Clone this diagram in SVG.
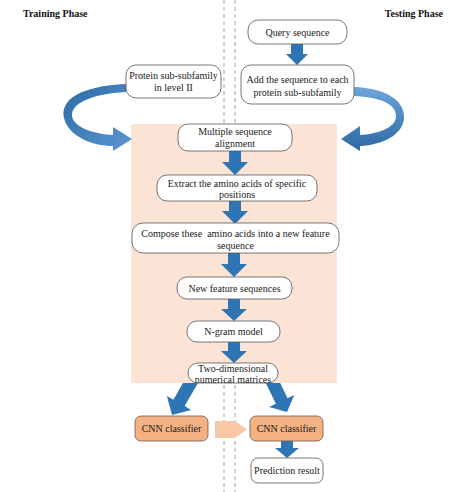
<svg xmlns="http://www.w3.org/2000/svg" width="474" height="492" viewBox="0 0 474 492">
<defs>
<style>
.t{font-family:"Liberation Serif","Times New Roman",serif;font-size:10px;fill:#1a1a1a;text-anchor:middle}
.h{font-family:"Liberation Serif","Times New Roman",serif;font-size:10px;font-weight:bold;fill:#111}
.b{fill:#fff;stroke:#555;stroke-width:0.8}
.o{fill:#f4b183;stroke:#6f5444;stroke-width:0.8}
.a{fill:#2e75b6}
.d{stroke:#8a8a8a;stroke-width:0.8;stroke-dasharray:4 3;fill:none}
</style>
<linearGradient id="gl" x1="0" y1="0" x2="1" y2="1">
<stop offset="0" stop-color="#2b6aa6"/>
<stop offset="1" stop-color="#5b97d0"/>
</linearGradient>
<linearGradient id="gr" x1="0" y1="0" x2="0" y2="1">
<stop offset="0" stop-color="#6ea6dc"/>
<stop offset="1" stop-color="#2b68a3"/>
</linearGradient>
</defs>
<rect width="474" height="492" fill="#fff"/>
<g id="dividers">
<line class="d" x1="224" y1="0" x2="224" y2="492"/>
<line class="d" x1="235" y1="0" x2="235" y2="492"/>
</g>
<text class="h" x="23" y="17">Training Phase</text>
<text class="h" x="443" y="17" text-anchor="end">Testing Phase</text>
<rect id="stage" x="131" y="124" width="206" height="259" fill="#fbe4d5"/>
<g id="connectors">
<path fill="url(#gl)" d="M126,84 C80,86 60,100 64,118 C68,136 92,146 113,146 L113,151 L132,139 L113,127 L113,135 C95,134 74,128 72,116 C71,103 92,94 126,92 Z"/>
<path fill="url(#gr)" d="M354,87 C385,88 405,100 404,118 C403,135 382,145 360,146 L360,151 L341,139 L360,126 L360,135 C378,134 395,128 396,117 C397,104 380,97 354,96 Z"/>
<polygon class="a" points="291,44 303,44 303,54 308,54 297,65 286,54 291,54"/>
<polygon class="a" points="229,151 241,151 241,162 248,162 235,175 222,162 229,162"/>
<polygon class="a" points="229,201 241,201 241,211 248,211 235,224 222,211 229,211"/>
<polygon class="a" points="228,253 240,253 240,264 247,264 234,277 221,264 228,264"/>
<polygon class="a" points="228,299 240,299 240,309 247,309 234,321 221,309 228,309"/>
<polygon class="a" points="228,342 240,342 240,351 247,351 234,363 221,351 228,351"/>
<polygon class="a" points="183,383 198,383 184.6,406.1 191.1,409.9 172,415 166.9,395.9 173.4,399.7"/>
<polygon class="a" points="265.8,383 280.2,383 287.55,398.2 294.3,394.9 287,412 269.1,407.1 275.85,403.8"/>
<polygon fill="#f8c8a4" points="215,421 235,421 247,429.5 235,438 215,438"/>
<polygon class="a" points="281,441 293,441 293,448 299,448 287,458 275,448 281,448"/>
</g>
<g id="query">
<rect class="b" x="248" y="20" width="99" height="24" rx="10"/>
<text class="t" x="297.5" y="35.5">Query sequence</text>
</g>
<g id="subfamily">
<rect class="b" x="126" y="65" width="95" height="33" rx="10"/>
<text class="t" x="173.5" y="78.5">Protein sub-subfamily</text>
<text class="t" x="173.5" y="91">in level II</text>
</g>
<g id="add">
<rect class="b" x="241" y="65" width="113" height="39" rx="10"/>
<text class="t" x="297.5" y="83">Add the sequence to each</text>
<text class="t" x="297.5" y="96">protein sub-subfamily</text>
</g>
<g id="msa">
<rect class="b" x="178" y="124" width="114" height="27" rx="10"/>
<text class="t" x="235" y="135">Multiple sequence</text>
<text class="t" x="235" y="147">alignment</text>
</g>
<g id="extract">
<rect class="b" x="157" y="175" width="160" height="26" rx="10"/>
<text class="t" x="237" y="186.5">Extract the amino acids of specific</text>
<text class="t" x="237" y="198">positions</text>
</g>
<g id="compose">
<rect class="b" x="132" y="223" width="207" height="30" rx="11"/>
<text class="t" x="235.5" y="237" xml:space="preserve">Compose these  amino acids into a new feature</text>
<text class="t" x="235.5" y="249">sequence</text>
</g>
<g id="newfeat">
<rect class="b" x="177" y="277" width="115" height="22" rx="10"/>
<text class="t" x="234.5" y="292">New feature sequences</text>
</g>
<g id="ngram">
<rect class="b" x="187" y="321" width="93" height="21" rx="10"/>
<text class="t" x="233.5" y="335">N-gram model</text>
</g>
<g id="matrices">
<rect class="b" x="188" y="363" width="90" height="20" rx="10"/>
<text class="t" x="233" y="371.5">Two-dimensional</text>
<text class="t" x="233" y="382.5">numerical matrices</text>
</g>
<g id="cnn-train">
<rect class="o" x="135" y="416" width="73" height="25" rx="6"/>
<text class="t" x="171.5" y="432">CNN classifier</text>
</g>
<g id="cnn-test">
<rect class="o" x="250" y="416" width="73" height="25" rx="6"/>
<text class="t" x="286.5" y="432">CNN classifier</text>
</g>
<g id="prediction">
<rect class="b" x="251" y="458" width="72" height="25" rx="7"/>
<text class="t" x="287" y="474">Prediction result</text>
</g>
</svg>
